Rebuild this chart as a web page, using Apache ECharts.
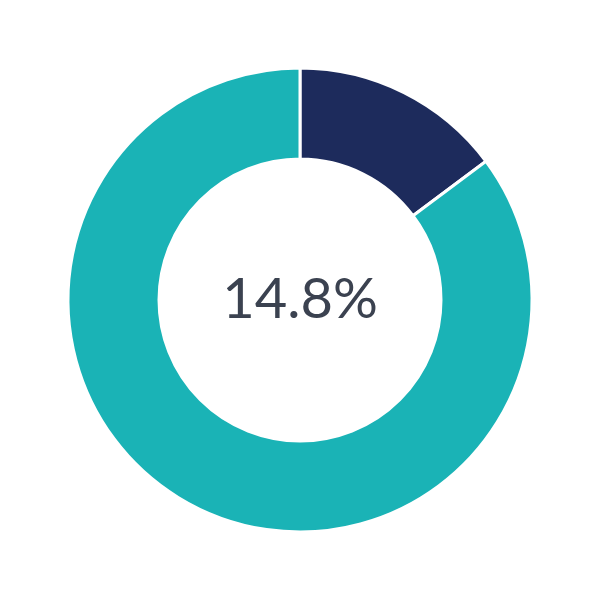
<!DOCTYPE html>
<html>
<head>
<meta charset="utf-8">
<script src="https://cdn.jsdelivr.net/npm/echarts@6/dist/echarts.min.js"></script>
<style>
  html, body { margin: 0; padding: 0; background: #fff; }
  #chart { width: 600px; height: 600px; }
</style>
</head>
<body>
<div id="chart"></div>
<script>
const labels = ['Share', 'Rest'];
const values = [14.8, 85.2];
const centerText = '14.8%';

echarts.init(document.getElementById('chart')).setOption({
  animation: false,
  color: ['#1d2b5c', '#1ab3b6'],
  title: {
    text: centerText,
    left: 'center',
    top: 'middle',
    textStyle: {
      fontFamily: 'Lato',
      fontWeight: 'normal',
      fontSize: 56,
      color: '#3b4250'
    }
  },
  series: [{
    type: 'pie',
    center: ['50%', '50%'],
    radius: [141, 232],
    startAngle: 90,
    clockwise: true,
    label: {show: false},
    labelLine: {show: false},
    itemStyle: {borderColor: '#fff', borderWidth: 3},
    emphasis: {disabled: true},
    data: labels.map((name, i) => ({name: name, value: values[i]}))
  }]
});
</script>
</body>
</html>
